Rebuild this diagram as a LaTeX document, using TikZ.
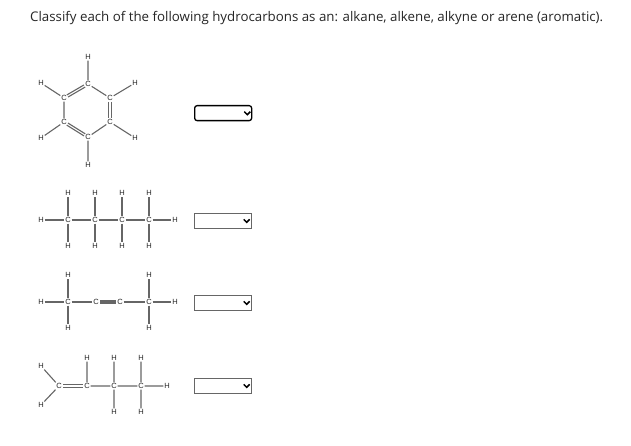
\documentclass[tikz,border=0pt]{standalone}
\usepackage{fontspec}
\setmainfont{Open Sans}
\newfontfamily\atomfont{Liberation Sans}
\usetikzlibrary{calc}
\begin{document}
\begin{tikzpicture}[x=1pt,y=-1pt,
  atom/.style={inner sep=0.8pt,font=\atomfont\fontsize{7.5}{8}\selectfont,text=black!85},
  bond/.style={draw=black!60,line width=1.1pt},
  sel/.style={draw=black!60,line width=0.7pt,minimum width=57pt,minimum height=15pt,inner sep=0pt,anchor=north west}]
\newcommand\mybond[3]{\draw[bond,shorten <=4pt,shorten >=4pt] ($(#1.center)!#3!90:(#2.center)$) -- ($(#2.center)!#3!-90:(#1.center)$);}
\useasboundingbox[fill=white] (0,0) rectangle (631,446);
\node[anchor=base west,inner sep=0pt,font=\fontsize{13.3}{15}\selectfont,text=black!85] (title) at (30,22)
 {Classify each of the following hydrocarbons as an: alkane, alkene, alkyne or arene (aromatic).};
% benzene
\node[atom] (b1) at (88,84) {C};
\node[atom] (b2) at (110,98) {C};
\node[atom] (b3) at (110,122) {C};
\node[atom] (b4) at (88,137) {C};
\node[atom] (b5) at (64,122) {C};
\node[atom] (b6) at (64,98) {C};
\node[atom] (h1) at (88,57) {H};
\node[atom] (h2) at (135,83) {H};
\node[atom] (h3) at (135,138) {H};
\node[atom] (h4) at (88,165) {H};
\node[atom] (h5) at (41,138) {H};
\node[atom] (h6) at (41,83) {H};
\mybond{b6}{b1}{1.2pt}\mybond{b6}{b1}{-1.2pt}
\mybond{b2}{b3}{1.2pt}\mybond{b2}{b3}{-1.2pt}
\mybond{b4}{b5}{1.2pt}\mybond{b4}{b5}{-1.2pt}
\draw[bond] (b1)--(b2) (b3)--(b4) (b5)--(b6)
 (b1)--(h1) (b2)--(h2) (b3)--(h3) (b4)--(h4) (b5)--(h5) (b6)--(h6);
\node[sel,line width=1.3pt,draw=black,rounded corners=2.5pt] (s1) at (194,105) {};
% butane
\foreach \i/\x in {1/68,2/95,3/122,4/149}{
  \node[atom] (a\i) at (\x,220) {C};
  \node[atom] (at\i) at (\x,193) {H};
  \node[atom] (ab\i) at (\x,246) {H};
  \draw[bond] (a\i)--(at\i) (a\i)--(ab\i);}
\node[atom] (al) at (41,220) {H};
\node[atom] (ar) at (175,220) {H};
\draw[bond] (al)--(a1)--(a2)--(a3)--(a4)--(ar);
\node[sel] (s2) at (194,213) {};
% butyne
\node[atom] (y1) at (68,302) {C};
\node[atom] (y2) at (96,302) {C};
\node[atom] (y3) at (120,302) {C};
\node[atom] (y4) at (149,302) {C};
\node[atom] (yl) at (41,302) {H};
\node[atom] (yr) at (175,302) {H};
\node[atom] (yt1) at (68,275) {H};
\node[atom] (yb1) at (68,328) {H};
\node[atom] (yt4) at (149,275) {H};
\node[atom] (yb4) at (149,328) {H};
\draw[bond] (yl)--(y1)--(y2) (y3)--(y4)--(yr) (y1)--(yt1) (y1)--(yb1) (y4)--(yt4) (y4)--(yb4);
\mybond{y2}{y3}{1.8pt}\mybond{y2}{y3}{0pt}\mybond{y2}{y3}{-1.8pt}
\node[sel] (s3) at (194,295) {};
% butene
\node[atom] (e1) at (59,386) {C};
\node[atom] (e2) at (87,386) {C};
\node[atom] (e3) at (114,386) {C};
\node[atom] (e4) at (141,386) {C};
\node[atom] (er) at (167,386) {H};
\node[atom] (et2) at (87,358) {H};
\node[atom] (et3) at (114,358) {H};
\node[atom] (et4) at (141,358) {H};
\node[atom] (eb3) at (114,412) {H};
\node[atom] (eb4) at (141,412) {H};
\node[atom] (eh1) at (41,366) {H};
\node[atom] (eh2) at (41,405) {H};
\mybond{e1}{e2}{1.2pt}\mybond{e1}{e2}{-1.2pt}
\draw[bond] (e2)--(e3)--(e4)--(er) (e2)--(et2) (e3)--(et3) (e4)--(et4) (e3)--(eb3) (e4)--(eb4) (e1)--(eh1) (e1)--(eh2);
\node[sel] (s4) at (194,378) {};
% chevrons
\foreach \s in {s1,s2,s3,s4}{
  \draw[black,line width=1.5pt] ([shift={(-8,-1.5)}]\s.east) -- ([shift={(-5,1.5)}]\s.east) -- ([shift={(-2,-1.5)}]\s.east);}
\end{tikzpicture}
\end{document}
